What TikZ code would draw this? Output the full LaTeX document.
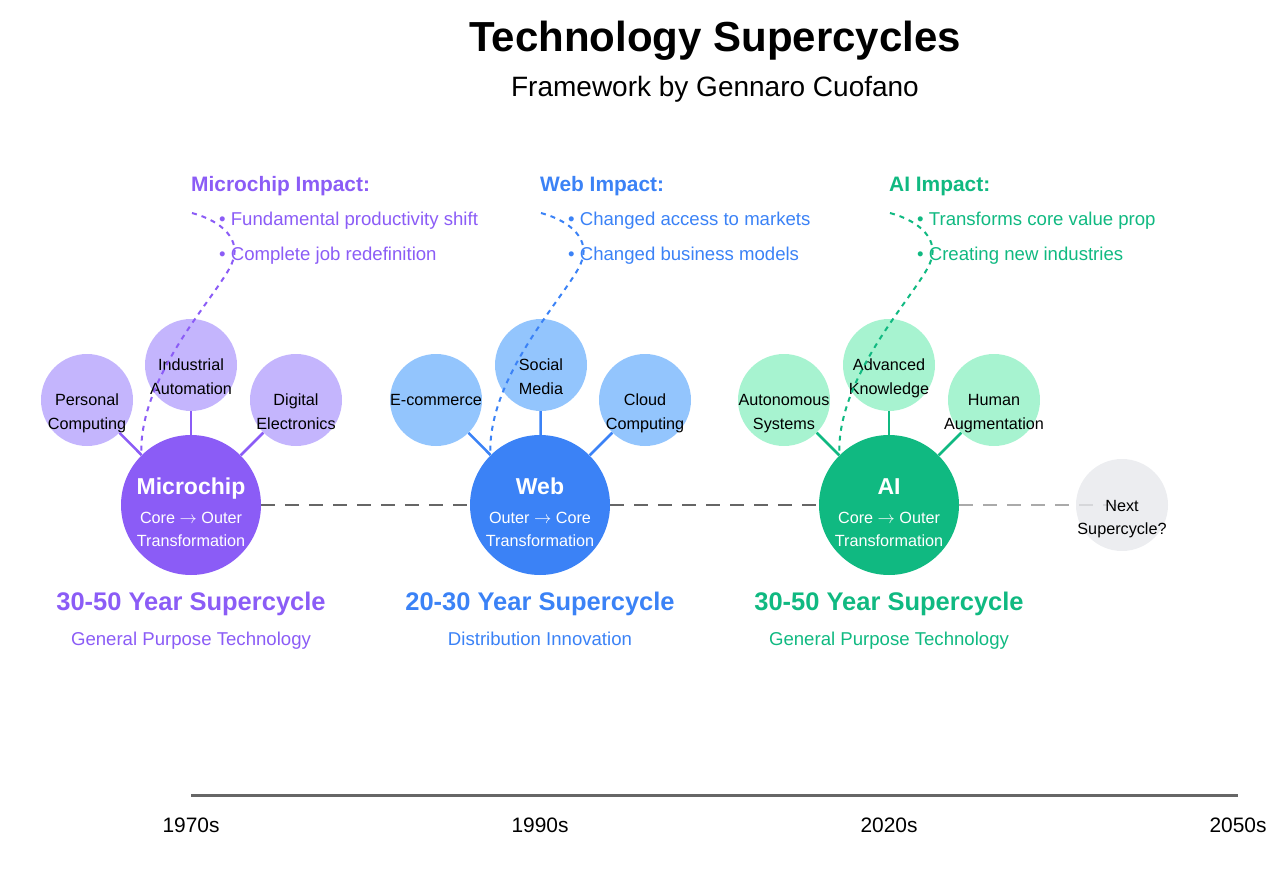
\documentclass[tikz,border=0pt]{standalone}
\usepackage{fontspec}
\setmainfont{Liberation Sans}
\usetikzlibrary{backgrounds}
\definecolor{chip}{HTML}{8B5CF6}
\definecolor{chiplt}{HTML}{C4B5FD}
\definecolor{webc}{HTML}{3B82F6}
\definecolor{weblt}{HTML}{93C5FD}
\definecolor{aic}{HTML}{10B981}
\definecolor{ailt}{HTML}{A7F3D0}
\definecolor{nextc}{HTML}{E5E7EB}
\definecolor{axisgray}{HTML}{666666}
\definecolor{fadegray}{HTML}{AAAAAA}
\newcommand{\fs}[1]{\fontsize{#1}{#1}\selectfont}
\newcommand{\toarrow}{$\rightarrow$}

\begin{document}
\begin{tikzpicture}[x=1pt, y=-1pt,
		core/.style={circle, minimum size=140pt, inner sep=0pt},
		sat/.style={circle, minimum size=92pt, inner sep=0pt},
		txt/.style={inner sep=0pt, anchor=base},
		link/.style={line width=2.5pt},
		era/.style={dash pattern=on 14pt off 10pt, line width=2pt},
		impact/.style={dash pattern=on 5pt off 5pt, line width=2pt}]
		\useasboundingbox (0,0) rectangle (1288,880);

		\node[txt, font=\fs{42}\bfseries] (title) at (715,52) {Technology Supercycles};
		\node[txt, font=\fs{28}] (subtitle) at (715,97) {Framework by Gennaro Cuofano};

		\foreach \k/\x/\c/\lbl/\fa/\fb/\yrs/\kind in {mc/191/chip/Microchip/Core/Outer/30-50/General Purpose Technology, web/540/webc/Web/Outer/Core/20-30/Distribution Innovation, ai/889/aic/AI/Core/Outer/30-50/General Purpose Technology}{
			\node[core, fill=\c] (\k) at (\x,505) {};
			\node[txt, text=white, font=\fs{23}\bfseries] (\k-name) at (\x,494) {\lbl};
			\node[txt, text=white, font=\fs{16.2}] (\k-flow) at (\x,523) {\fa\ \toarrow\ \fb};
			\node[txt, text=white, font=\fs{16.2}] (\k-kind) at (\x,546) {Transformation};
			\node[txt, text=\c, font=\fs{25.5}\bfseries] (\k-span) at (\x,610) {\yrs\ Year Supercycle};
			\node[txt, text=\c, font=\fs{18.6}] (\k-type) at (\x,645) {\kind};
		}

		\node[sat, fill=nextc, fill opacity=.75] (next) at (1122,505) {};
		\node[txt, font=\fs{16.2}] (next-a) at (1122,511) {Next};
		\node[txt, font=\fs{16.2}] (next-b) at (1122,534) {Supercycle?};

		\begin{scope}[on background layer]
			\draw[era, axisgray] (mc) -- (web);
			\draw[era, axisgray] (web) -- (ai);
			\draw[era, fadegray] (ai) -- (next.center);
		\end{scope}

		\foreach \s/\x/\y/\lt/\c/\hub/\la/\lb in {pc/87/400/chiplt/chip/mc/Personal/Computing, ia/191/365/chiplt/chip/mc/Industrial/Automation, de/296/400/chiplt/chip/mc/Digital/Electronics, ec/436/400/weblt/webc/web/E-commerce/, sm/541/365/weblt/webc/web/Social/Media, cc/645/400/weblt/webc/web/Cloud/Computing, as/784/400/ailt/aic/ai/Autonomous/Systems, ak/889/365/ailt/aic/ai/Advanced/Knowledge, ha/994/400/ailt/aic/ai/Human/Augmentation}{
			\node[sat, fill=\lt] (\s) at (\x,\y) {};
			\node[txt, font=\fs{16.2}] (\s-a) at (\x,\y+5.8) {\la};
			\node[txt, font=\fs{16.2}] (\s-b) at (\x,\y+29.8) {\lb};
			\draw[link, draw=\c] (\hub) -- (\s);
		}

		\foreach \k/\x/\c/\head/\ia/\ib in {mc/191/chip/Microchip/Fundamental productivity shift/Complete job redefinition, web/540/webc/Web/Changed access to markets/Changed business models, ai/889/aic/AI/Transforms core value prop/Creating new industries}{
			\node[txt, anchor=base west, text=\c, font=\fs{20.9}\bfseries] (\k-imp) at (\x,191.5) {\head\ Impact:};
			\node[txt, anchor=base west, text=\c, font=\fs{18.6}] (\k-imp-a) at (\x+28,225.6) {• \ia};
			\node[txt, anchor=base west, text=\c, font=\fs{18.6}] (\k-imp-b) at (\x+28,260.6) {• \ib};
			\coordinate (\k-tail) at (\x+1,213);
			\draw[impact, draw=\c] (\k-tail) .. controls (\x+31,221) and (\x+51,240) .. (\x+41,263)
				.. controls (\x+29,293) and (\x-53,375) .. (\k.135);
		}

		\coordinate (axis-l) at (191,795);
		\coordinate (axis-r) at (1238,795);
		\draw[line width=3pt, axisgray] (axis-l) -- (axis-r);
		\foreach \x/\yr in {191/1970s, 540/1990s, 889/2020s, 1238/2050s}
			\node[txt, font=\fs{20.9}] (y\yr) at (\x,832) {\yr};
	\end{tikzpicture}
\end{document}
